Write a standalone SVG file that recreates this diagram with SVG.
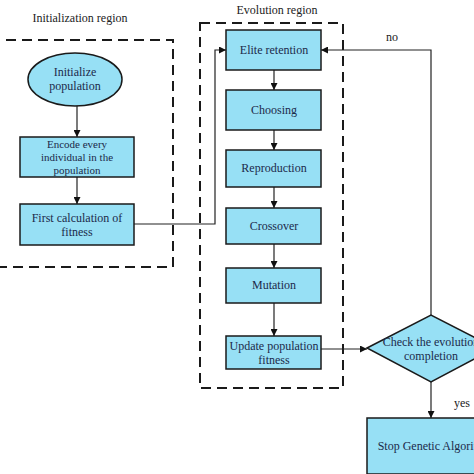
<svg xmlns="http://www.w3.org/2000/svg" width="474" height="474" viewBox="0 0 474 474">
<defs>
<marker id="ah" viewBox="0 0 10 10" refX="10" refY="5" markerWidth="7" markerHeight="7" orient="auto" markerUnits="userSpaceOnUse">
<path d="M0,0 L10,5 L0,10 z" fill="#111"/>
</marker>
<style>
.node{fill:#97E0F5;stroke:#1a1a1a;stroke-width:1.5}
.region{fill:none;stroke:#1a1a1a;stroke-width:2;stroke-dasharray:10,6}
.t{font-family:"Liberation Serif","Times New Roman",serif;font-size:12px;fill:#1c2a4a;text-anchor:middle}
.s{font-size:11px}
.lab{font-family:"Liberation Serif","Times New Roman",serif;font-size:12px;fill:#222;text-anchor:middle}
.c{fill:none;stroke:#222;stroke-width:1.2}
</style>
</defs>
<rect width="474" height="474" fill="#fff"/>
<g id="regions">
<rect class="region" x="-10" y="40" width="183" height="227"/>
<text class="lab" x="80" y="22">Initialization region</text>
<rect class="region" x="200" y="23" width="143" height="365"/>
<text class="lab" x="277" y="14">Evolution region</text>
</g>
<g id="connectors">
<line class="c" x1="77" y1="106" x2="77" y2="137" marker-end="url(#ah)"/>
<line class="c" x1="77" y1="177" x2="77" y2="204" marker-end="url(#ah)"/>
<polyline class="c" points="134,224 215,224 215,50 226,50" marker-end="url(#ah)"/>
<line class="c" x1="274" y1="70" x2="274" y2="90" marker-end="url(#ah)"/>
<line class="c" x1="274" y1="130" x2="274" y2="150" marker-end="url(#ah)"/>
<line class="c" x1="274" y1="187" x2="274" y2="208" marker-end="url(#ah)"/>
<line class="c" x1="274" y1="244" x2="274" y2="268" marker-end="url(#ah)"/>
<line class="c" x1="274" y1="303" x2="274" y2="336" marker-end="url(#ah)"/>
<line class="c" x1="321" y1="349" x2="367" y2="349" marker-end="url(#ah)"/>
<polyline class="c" points="431,315 431,50 321,50" marker-end="url(#ah)"/>
<text class="lab" x="392" y="41">no</text>
<line class="c" x1="431" y1="382" x2="431" y2="418" marker-end="url(#ah)"/>
<text class="lab" x="462" y="407">yes</text>
</g>
<g id="init">
<ellipse class="node" cx="75" cy="79.5" rx="47" ry="26.5"/>
<text class="t" x="75" y="76">Initialize</text>
<text class="t" x="75" y="90">population</text>
</g>
<g id="encode">
<rect class="node" x="20" y="137" width="114" height="40"/>
<text class="t s" x="77" y="148">Encode every</text>
<text class="t s" x="77" y="161">individual in the</text>
<text class="t s" x="77" y="174">population</text>
</g>
<g id="firstcalc">
<rect class="node" x="20" y="204" width="114" height="41"/>
<text class="t" x="77" y="222">First calculation of</text>
<text class="t" x="77" y="236">fitness</text>
</g>
<g id="elite">
<rect class="node" x="226" y="30" width="95" height="40"/>
<text class="t" x="274" y="54">Elite retention</text>
</g>
<g id="choosing">
<rect class="node" x="226" y="90" width="95" height="40"/>
<text class="t" x="274" y="114">Choosing</text>
</g>
<g id="reproduction">
<rect class="node" x="226" y="150" width="95" height="37"/>
<text class="t" x="274" y="172">Reproduction</text>
</g>
<g id="crossover">
<rect class="node" x="226" y="208" width="95" height="36"/>
<text class="t" x="274" y="230">Crossover</text>
</g>
<g id="mutation">
<rect class="node" x="226" y="268" width="95" height="35"/>
<text class="t" x="274" y="289">Mutation</text>
</g>
<g id="update">
<rect class="node" x="226" y="336" width="95" height="33"/>
<text class="t" x="274" y="350">Update population</text>
<text class="t" x="274" y="364">fitness</text>
</g>
<g id="check">
<polygon class="node" points="367,348 431,315 495,348 431,382"/>
<text class="t" x="431" y="346">Check the evolution</text>
<text class="t" x="431" y="360">completion</text>
</g>
<g id="stop">
<rect class="node" x="367" y="418" width="150" height="56"/>
<text class="t" x="435" y="450">Stop Genetic Algorithm</text>
</g>
</svg>
